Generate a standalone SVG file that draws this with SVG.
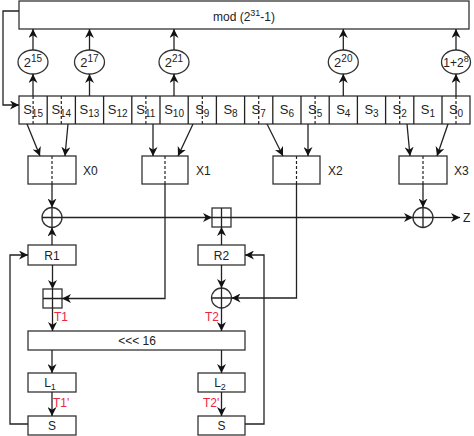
<svg xmlns="http://www.w3.org/2000/svg" width="474" height="436" viewBox="0 0 474 436">
<defs>
<marker id="a" viewBox="0 0 10 10" refX="10" refY="5" markerWidth="9" markerHeight="9" orient="auto" markerUnits="userSpaceOnUse"><path d="M0,0 L10,5 L0,10 L3,5 z" fill="#111"/></marker>
<style>
.b{fill:#fff;stroke:#333;stroke-width:1.3}
.d{stroke:#222;stroke-width:1.2;stroke-dasharray:3,2}
.c{fill:none;stroke:#222;stroke-width:1.3;marker-end:url(#a)}
.n{fill:none;stroke:#222;stroke-width:1.3}
text{font-family:"Liberation Sans",Arial,sans-serif;font-size:12px;fill:#222}
.s{font-size:13px}
.r{fill:#e8263c}
</style>
</defs>
<g id="mod"><rect class="b" x="19" y="1" width="450" height="28"/><text x="244" y="21" text-anchor="middle">mod (2<tspan font-size="9" dy="-5">31</tspan><tspan dy="5">-1)</tspan></text></g>
<g id="register">
<rect class="b" x="19" y="96" width="451" height="28"/>
<path class="n" d="M47.2,96V124M75.4,96V124M103.6,96V124M131.8,96V124M160,96V124M188.2,96V124M216.4,96V124M244.6,96V124M272.8,96V124M301,96V124M329.2,96V124M357.4,96V124M385.6,96V124M413.8,96V124M442,96V124"/>
<path class="d" d="M33.1,96V124M61.3,96V124M145.9,96V124M202.3,96V124M258.7,96V124M315.1,96V124M399.7,96V124M456,96V124"/>
<g class="s">
<text class="s" x="33.1" y="114" text-anchor="middle">S<tspan font-size="10" dy="3">15</tspan></text>
<text class="s" x="61.3" y="114" text-anchor="middle">S<tspan font-size="10" dy="3">14</tspan></text>
<text class="s" x="89.5" y="114" text-anchor="middle">S<tspan font-size="10" dy="3">13</tspan></text>
<text class="s" x="117.7" y="114" text-anchor="middle">S<tspan font-size="10" dy="3">12</tspan></text>
<text class="s" x="145.9" y="114" text-anchor="middle">S<tspan font-size="10" dy="3">11</tspan></text>
<text class="s" x="174.1" y="114" text-anchor="middle">S<tspan font-size="10" dy="3">10</tspan></text>
<text class="s" x="202.3" y="114" text-anchor="middle">S<tspan font-size="10" dy="3">9</tspan></text>
<text class="s" x="230.5" y="114" text-anchor="middle">S<tspan font-size="10" dy="3">8</tspan></text>
<text class="s" x="258.7" y="114" text-anchor="middle">S<tspan font-size="10" dy="3">7</tspan></text>
<text class="s" x="286.9" y="114" text-anchor="middle">S<tspan font-size="10" dy="3">6</tspan></text>
<text class="s" x="315.1" y="114" text-anchor="middle">S<tspan font-size="10" dy="3">5</tspan></text>
<text class="s" x="343.3" y="114" text-anchor="middle">S<tspan font-size="10" dy="3">4</tspan></text>
<text class="s" x="371.5" y="114" text-anchor="middle">S<tspan font-size="10" dy="3">3</tspan></text>
<text class="s" x="399.7" y="114" text-anchor="middle">S<tspan font-size="10" dy="3">2</tspan></text>
<text class="s" x="427.9" y="114" text-anchor="middle">S<tspan font-size="10" dy="3">1</tspan></text>
<text class="s" x="456" y="114" text-anchor="middle">S<tspan font-size="10" dy="3">0</tspan></text>
</g>
</g>
<g id="m15"><ellipse class="b" cx="33" cy="62" rx="15" ry="12"/><text class="s" x="33" y="67" text-anchor="middle">2<tspan font-size="10" dy="-5">15</tspan></text></g>
<g id="m17"><ellipse class="b" cx="89.5" cy="62" rx="15" ry="12"/><text class="s" x="89.5" y="67" text-anchor="middle">2<tspan font-size="10" dy="-5">17</tspan></text></g>
<g id="m21"><ellipse class="b" cx="174" cy="62" rx="15" ry="12"/><text class="s" x="174" y="67" text-anchor="middle">2<tspan font-size="10" dy="-5">21</tspan></text></g>
<g id="m20"><ellipse class="b" cx="343.3" cy="62" rx="15" ry="12"/><text class="s" x="343.3" y="67" text-anchor="middle">2<tspan font-size="10" dy="-5">20</tspan></text></g>
<g id="m8"><ellipse class="b" cx="456" cy="62" rx="14.5" ry="12"/><text x="456" y="67" text-anchor="middle" font-size="12">1+2<tspan font-size="9" dy="-5">8</tspan></text></g>
<g id="X0"><rect class="b" x="28" y="156" width="48" height="28"/><path class="d" d="M52,156V184"/><text x="83" y="175">X0</text></g>
<g id="X1"><rect class="b" x="142" y="156" width="46" height="28"/><path class="d" d="M165,156V184"/><text x="196" y="175">X1</text></g>
<g id="X2"><rect class="b" x="273" y="156" width="47" height="28"/><path class="d" d="M296.5,156V184"/><text x="328" y="175">X2</text></g>
<g id="X3"><rect class="b" x="399" y="156" width="48" height="28"/><path class="d" d="M423,156V184"/><text x="454" y="175">X3</text></g>
<g id="xor0"><circle class="b" cx="52" cy="217.5" r="10"/><path class="n" d="M42,217.5H62M52,207.5V227.5"/></g>
<g id="add0"><rect class="b" x="212" y="208" width="19" height="19"/><path class="n" d="M212,217.5H231M221.5,208V227"/></g>
<g id="xor3"><circle class="b" cx="423" cy="217.5" r="10"/><path class="n" d="M413,217.5H433M423,207.5V227.5"/></g>
<g id="Z"><text x="463" y="222">Z</text></g>
<g id="R1"><rect class="b" x="28" y="245" width="48" height="20"/><text x="52" y="259.5" text-anchor="middle">R1</text></g>
<g id="R2"><rect class="b" x="198" y="245" width="47" height="20"/><text x="221.5" y="259.5" text-anchor="middle">R2</text></g>
<g id="add1"><rect class="b" x="43" y="289" width="19" height="19"/><path class="n" d="M43,298.5H62M52.5,289V308"/></g>
<g id="xor2"><circle class="b" cx="221.5" cy="298" r="10"/><path class="n" d="M211.5,298H231.5M221.5,288V308"/></g>
<g id="T1"><text class="r" x="54" y="321">T1</text></g>
<g id="T2"><text class="r" x="205" y="321">T2</text></g>
<g id="rot"><rect class="b" x="28" y="331" width="217" height="19"/><text x="137" y="345" text-anchor="middle">&lt;&lt;&lt; 16</text></g>
<g id="L1"><rect class="b" x="28" y="373" width="48" height="19"/><text x="50" y="387" text-anchor="middle">L<tspan font-size="9" dy="3">1</tspan></text></g>
<g id="L2"><rect class="b" x="198" y="373" width="47" height="19"/><text x="220" y="387" text-anchor="middle">L<tspan font-size="9" dy="3">2</tspan></text></g>
<g id="T1p"><text class="r" x="53" y="407">T1'</text></g>
<g id="T2p"><text class="r" x="203" y="407">T2'</text></g>
<g id="S1"><rect class="b" x="28" y="416" width="48" height="19"/><text x="52" y="430" text-anchor="middle">S</text></g>
<g id="S2"><rect class="b" x="198" y="416" width="47" height="19"/><text x="221.5" y="430" text-anchor="middle">S</text></g>
<g id="connectors">
<path class="c" d="M19,11H3V105H19"/>
<path class="c" d="M33,96V74"/><path class="c" d="M33,50V29"/>
<path class="c" d="M89.5,96V74"/><path class="c" d="M89.5,50V29"/>
<path class="c" d="M174,96V74"/><path class="c" d="M174,50V29"/>
<path class="c" d="M343.3,96V74"/><path class="c" d="M343.3,50V29"/>
<path class="c" d="M456,96V74"/><path class="c" d="M456,50V29"/>
<path class="c" d="M27,124L40,156"/><path class="c" d="M68,124L65,156"/>
<path class="c" d="M153,124V156"/><path class="c" d="M193,124L178,156"/>
<path class="c" d="M267,124L283,156"/><path class="c" d="M308,124V156"/>
<path class="c" d="M407,124L410,156"/><path class="c" d="M448,124L437,156"/>
<path class="c" d="M52,184V207.5"/>
<path class="c" d="M423,184V207.5"/>
<path class="c" d="M62,217.5H212"/>
<path class="c" d="M231,217.5H413"/>
<path class="c" d="M433,217.5H460"/>
<path class="c" d="M52,245V227.5"/>
<path class="c" d="M221.5,245V227"/>
<path class="c" d="M165,184V298.5H62"/>
<path class="c" d="M296.5,184V298H231.5"/>
<path class="c" d="M52.5,265V289"/>
<path class="c" d="M221.5,265V288"/>
<path class="c" d="M52.5,308V331"/>
<path class="c" d="M221.5,308V331"/>
<path class="c" d="M52,350V373"/>
<path class="c" d="M221.5,350V373"/>
<path class="c" d="M52,392V416"/>
<path class="c" d="M221.5,392V416"/>
<path class="c" d="M28,424H10V255H28"/>
<path class="c" d="M245,424H264V255H245"/>
</g>
</svg>
